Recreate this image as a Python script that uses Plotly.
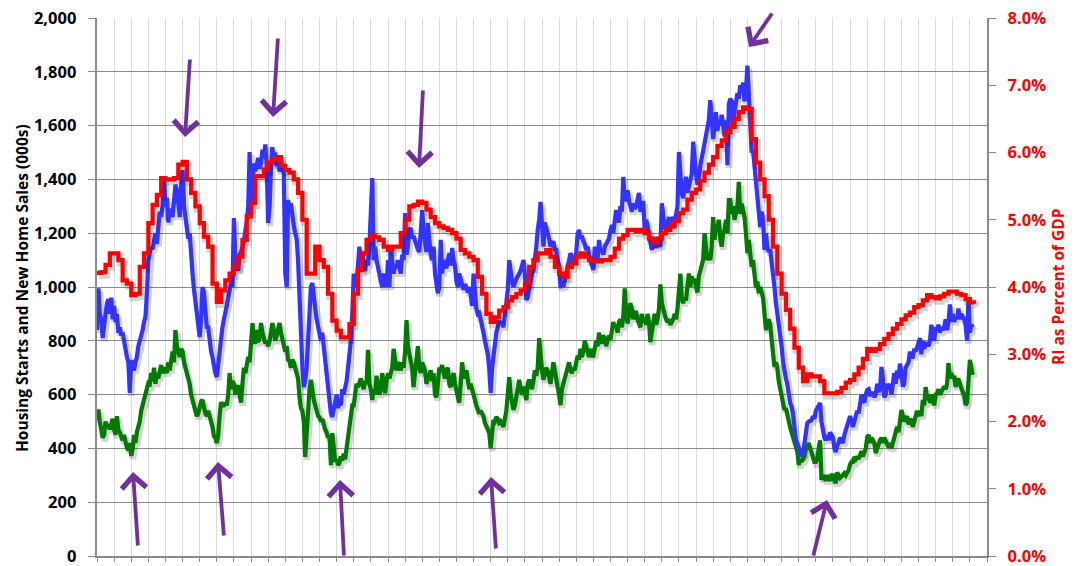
import plotly.graph_objects as go
import pandas as pd

START = "1968-01-01"

# Single-family housing starts (000s, SAAR), monthly from Jan 1968, one row per year
sf_starts_rows = [
    [840, 995, 900, 880, 810, 870, 900, 940, 955, 900, 960, 880],        # 1968
    [930, 870, 900, 830, 850, 820, 830, 800, 760, 740, 720, 606],        # 1969
    [728, 700, 690, 720, 740, 780, 800, 810, 840, 870, 890, 980],        # 1970
    [1100, 1130, 1150, 1140, 1180, 1200, 1160, 1240, 1280, 1260, 1300, 1409],
    [1300, 1330, 1240, 1290, 1280, 1260, 1330, 1380, 1360, 1290, 1260, 1380],
    [1435, 1300, 1250, 1230, 1180, 1200, 1100, 1050, 990, 950, 900, 850],
    [814, 880, 1000, 980, 900, 851, 850, 800, 760, 740, 700, 680],
    [665, 720, 780, 829, 850, 880, 900, 930, 960, 990, 1015, 1000],
    [1256, 1100, 1090, 1060, 1120, 1130, 1150, 1170, 1210, 1240, 1300, 1502],
    [1280, 1380, 1460, 1430, 1450, 1480, 1440, 1460, 1510, 1480, 1530, 1450],
    [1238, 1300, 1450, 1520, 1470, 1500, 1450, 1460, 1430, 1480, 1440, 1420],
    [1052, 1000, 1323, 1300, 1310, 1250, 1230, 1200, 1180, 1100, 950, 800],
    [700, 628, 650, 700, 800, 900, 1000, 1015, 950, 920, 880, 850],      # 1980
    [820, 800, 830, 780, 700, 680, 600, 560, 530, 517, 540, 560],
    [600, 550, 570, 560, 620, 600, 620, 650, 700, 750, 800, 900],
    [1050, 1000, 1020, 1080, 1150, 1100, 1130, 1080, 1060, 1100, 1080, 1150],
    [1250, 1405, 1100, 1150, 1100, 1080, 1050, 1020, 1000, 1050, 1030, 1000],
    [1100, 1000, 1150, 1100, 1050, 1080, 1070, 1100, 1060, 1050, 1120, 1100],
    [1275, 1120, 1150, 1212, 1220, 1180, 1190, 1170, 1150, 1140, 1130, 1200],
    [1286, 1200, 1160, 1130, 1238, 1150, 1120, 1100, 1150, 1050, 1020, 977],
    [1000, 1175, 1050, 1100, 1080, 1070, 1100, 1126, 1080, 1145, 1100, 1080],
    [1020, 1000, 1050, 1030, 1000, 990, 1010, 1000, 980, 1000, 970, 930],
    [1050, 960, 920, 900, 903, 880, 860, 830, 800, 777, 750, 700],       # 1990
    [606, 700, 750, 803, 830, 850, 877, 860, 870, 850, 900, 930],
    [989, 1100, 1050, 1020, 1000, 1020, 1030, 1040, 1050, 1060, 1080, 1100],
    [1050, 952, 960, 1000, 1020, 1050, 1060, 1100, 1150, 1212, 1250, 1316],
    [1250, 1150, 1240, 1212, 1200, 1180, 1150, 1160, 1170, 1140, 1138, 1100],
    [1080, 996, 1020, 1000, 1030, 1050, 1080, 1100, 1126, 1110, 1090, 1100],
    [1130, 1200, 1212, 1180, 1190, 1170, 1160, 1138, 1150, 1120, 1100, 1080],
    [1063, 1150, 1120, 1100, 1175, 1130, 1140, 1120, 1150, 1160, 1170, 1180],
    [1212, 1230, 1200, 1250, 1286, 1260, 1240, 1300, 1280, 1409, 1320, 1330],
    [1360, 1320, 1300, 1280, 1311, 1290, 1300, 1320, 1350, 1280, 1300, 1320],
    [1212, 1250, 1230, 1200, 1180, 1138, 1160, 1170, 1145, 1180, 1160, 1150],  # 2000
    [1311, 1250, 1220, 1212, 1240, 1260, 1230, 1250, 1260, 1240, 1280, 1300],
    [1502, 1400, 1350, 1330, 1380, 1410, 1350, 1380, 1400, 1420, 1540, 1450],
    [1420, 1380, 1400, 1450, 1480, 1500, 1520, 1550, 1600, 1620, 1695, 1600],
    [1550, 1600, 1650, 1580, 1620, 1600, 1640, 1600, 1560, 1620, 1453, 1680],
    [1700, 1690, 1600, 1650, 1680, 1720, 1700, 1750, 1720, 1760, 1690, 1730],
    [1823, 1700, 1650, 1500, 1510, 1450, 1400, 1350, 1300, 1223, 1280, 1250],
    [1138, 1200, 1150, 1130, 1140, 1100, 1050, 1000, 940, 900, 880, 814],
    [780, 720, 680, 660, 640, 600, 570, 555, 530, 480, 431, 420],
    [400, 383, 370, 380, 420, 450, 494, 500, 505, 505, 520, 510],
    [540, 550, 560, 569, 500, 460, 440, 430, 450, 430, 460, 450],        # 2010
    [440, 400, 387, 410, 420, 440, 430, 420, 450, 470, 480, 500],
    [520, 500, 480, 500, 530, 540, 530, 560, 600, 580, 570, 600],
    [617, 620, 600, 600, 610, 590, 600, 640, 610, 620, 703, 660],
    [590, 600, 640, 620, 640, 600, 650, 680, 640, 690, 660, 715],
    [680, 630, 640, 700, 710, 720, 760, 740, 740, 770, 760, 780],
    [790, 810, 750, 800, 770, 790, 790, 780, 800, 860, 820, 800],
    [850, 840, 860, 830, 850, 840, 850, 880, 840, 870, 935, 870],
    [900, 870, 890, 880, 920, 880, 900, 890, 880, 860, 800, 950],
    [830, 860, 850],                                                      # 2019
]

# New home sales (000s, SAAR), monthly from Jan 1968, one row per year
new_home_sales_rows = [
    [505, 545, 500, 470, 440, 450, 500, 480, 490, 470, 500, 510],        # 1968
    [470, 450, 520, 470, 460, 442, 430, 450, 420, 401, 395, 420],
    [372, 400, 450, 420, 460, 480, 500, 540, 560, 570, 600, 617],        # 1970
    [643, 640, 680, 650, 700, 640, 680, 660, 700, 710, 680, 690],
    [700, 680, 720, 690, 740, 760, 720, 840, 780, 760, 740, 770],
    [760, 720, 700, 680, 665, 640, 600, 580, 570, 540, 520, 530],
    [560, 575, 580, 550, 530, 520, 540, 520, 500, 480, 445, 440],
    [420, 450, 520, 572, 560, 560, 570, 560, 600, 680, 620, 650],
    [640, 600, 620, 635, 600, 570, 640, 700, 680, 720, 740, 720],
    [800, 866, 800, 790, 840, 795, 810, 866, 830, 800, 790, 800],
    [780, 800, 830, 866, 840, 800, 820, 850, 866, 830, 800, 780],
    [760, 780, 730, 725, 700, 730, 720, 700, 680, 660, 590, 550],
    [540, 500, 368, 450, 560, 620, 655, 600, 580, 560, 540, 520],        # 1980
    [516, 500, 510, 480, 470, 460, 440, 450, 338, 457, 380, 350],
    [360, 338, 345, 370, 355, 380, 360, 400, 430, 480, 530, 560],
    [560, 600, 640, 628, 650, 660, 640, 620, 650, 640, 766, 640],
    [620, 580, 620, 600, 670, 640, 600, 620, 680, 640, 605, 650],
    [680, 660, 690, 700, 770, 725, 690, 720, 700, 690, 720, 700],
    [760, 877, 780, 740, 725, 700, 628, 680, 720, 780, 700, 680],
    [720, 700, 690, 640, 660, 680, 690, 650, 680, 600, 590, 640],
    [700, 690, 710, 680, 660, 690, 700, 640, 628, 660, 680, 640],
    [620, 600, 570, 640, 720, 680, 660, 690, 650, 620, 640, 615],
    [600, 580, 560, 543, 530, 540, 530, 520, 495, 480, 470, 460],        # 1990
    [401, 460, 505, 500, 517, 510, 495, 500, 490, 480, 510, 540],
    [600, 665, 605, 580, 543, 560, 600, 640, 655, 620, 600, 630],
    [600, 580, 640, 655, 640, 620, 650, 690, 670, 700, 810, 720],
    [690, 655, 680, 700, 690, 660, 640, 680, 720, 690, 640, 628],
    [600, 561, 620, 640, 665, 680, 700, 720, 690, 680, 700, 690],
    [720, 745, 730, 770, 740, 760, 800, 780, 760, 740, 770, 745],
    [745, 770, 800, 780, 830, 800, 790, 820, 810, 780, 805, 820],
    [805, 840, 870, 850, 860, 830, 870, 880, 850, 890, 995, 900],
    [865, 900, 940, 920, 880, 900, 910, 880, 860, 850, 900, 870],
    [880, 860, 900, 870, 795, 830, 880, 900, 860, 880, 920, 1010],       # 2000
    [940, 910, 900, 880, 870, 880, 860, 870, 880, 900, 880, 920],
    [1000, 1050, 960, 940, 960, 950, 1000, 1050, 1000, 1040, 1020, 1030],
    [1000, 980, 1040, 1060, 1080, 1100, 1200, 1150, 1100, 1120, 1100, 1150],
    [1260, 1175, 1230, 1212, 1250, 1180, 1150, 1200, 1212, 1250, 1200, 1323],
    [1323, 1272, 1300, 1250, 1280, 1300, 1391, 1272, 1310, 1290, 1260, 1200],
    [1126, 1175, 1100, 1075, 1100, 1050, 1000, 1020, 977, 1000, 980, 960],
    [900, 840, 860, 880, 860, 800, 780, 703, 720, 700, 650, 620],
    [600, 580, 543, 550, 520, 500, 480, 460, 440, 420, 405, 390],
    [338, 360, 350, 360, 370, 400, 405, 420, 400, 390, 370, 350],
    [350, 360, 400, 430, 283, 300, 290, 280, 300, 290, 280, 300],        # 2010
    [300, 280, 271, 310, 300, 290, 295, 300, 308, 300, 310, 320],
    [340, 350, 350, 368, 360, 370, 360, 380, 390, 370, 390, 400],
    [442, 450, 420, 440, 430, 420, 383, 400, 420, 430, 440, 420],
    [440, 430, 420, 405, 420, 400, 420, 440, 450, 480, 460, 500],
    [543, 520, 500, 510, 520, 490, 500, 510, 480, 500, 520, 540],
    [520, 540, 520, 580, 560, 628, 580, 600, 570, 580, 600, 560],
    [600, 605, 620, 600, 610, 620, 630, 620, 640, 717, 660, 680],
    [660, 670, 628, 650, 660, 640, 620, 610, 600, 561, 570, 650],
    [729, 700, 673],                                                      # 2019
]

# Residential investment as percent of GDP, quarterly from 1968 Q1, one row per year
ri_pct_gdp_rows = [
    [4.21, 4.22, 4.33, 4.5],   # 1968
    [4.5, 4.4, 4.1, 4.05],
    [3.88, 3.9, 4.3, 4.5],     # 1970
    [4.95, 5.22, 5.37, 5.62],
    [5.6, 5.6, 5.62, 5.82],
    [5.86, 5.6, 5.4, 5.2],
    [4.95, 4.75, 4.6, 4.05],
    [3.78, 3.95, 4.1, 4.2],
    [4.3, 4.45, 4.7, 5.05],
    [5.25, 5.65, 5.65, 5.75],
    [5.85, 5.9, 5.93, 5.8],
    [5.74, 5.7, 5.6, 5.4],
    [5.0, 4.2, 4.2, 4.6],      # 1980
    [4.4, 4.3, 3.9, 3.5],
    [3.35, 3.25, 3.25, 3.45],
    [3.9, 4.25, 4.5, 4.7],
    [4.76, 4.74, 4.7, 4.6],
    [4.55, 4.6, 4.6, 4.8],
    [5.0, 5.2, 5.22, 5.27],
    [5.25, 5.15, 5.04, 4.95],
    [4.9, 4.88, 4.85, 4.8],
    [4.72, 4.55, 4.5, 4.45],
    [4.4, 4.15, 3.9, 3.6],     # 1990
    [3.48, 3.55, 3.65, 3.7],
    [3.8, 3.85, 3.9, 3.95],
    [4.05, 4.3, 4.4, 4.5],
    [4.5, 4.55, 4.45, 4.3],
    [4.2, 4.15, 4.3, 4.35],
    [4.45, 4.5, 4.45, 4.4],
    [4.38, 4.38, 4.4, 4.4],
    [4.45, 4.57, 4.72, 4.77],
    [4.85, 4.85, 4.83, 4.85],
    [4.8, 4.72, 4.66, 4.72],   # 2000
    [4.8, 4.85, 4.9, 4.98],
    [5.1, 5.15, 5.3, 5.4],
    [5.45, 5.58, 5.7, 5.82],
    [5.93, 6.1, 6.18, 6.3],
    [6.38, 6.5, 6.6, 6.67],
    [6.65, 6.2, 5.85, 5.6],
    [5.35, 5.0, 4.6, 4.2],
    [3.9, 3.66, 3.38, 3.1],
    [2.8, 2.6, 2.7, 2.67],
    [2.67, 2.6, 2.42, 2.42],   # 2010
    [2.42, 2.44, 2.5, 2.58],
    [2.62, 2.7, 2.8, 2.93],
    [3.08, 3.05, 3.08, 3.15],
    [3.23, 3.3, 3.38, 3.45],
    [3.52, 3.58, 3.62, 3.7],
    [3.73, 3.8, 3.88, 3.85],
    [3.83, 3.86, 3.9, 3.93],
    [3.93, 3.9, 3.88, 3.82],
    [3.77, 3.75],              # 2019
]

left_title = "Housing Starts and New Home Sales (000s)"
right_title = "RI as Percent of GDP"

starts = [v for row in sf_starts_rows for v in row]
sales = [v for row in new_home_sales_rows for v in row]
ri = [v for row in ri_pct_gdp_rows for v in row]

months_starts = pd.date_range(START, periods=len(starts), freq="MS")
months_sales = pd.date_range(START, periods=len(sales), freq="MS")
quarters = pd.date_range(START, periods=len(ri), freq="QS")

# ---- figure geometry (pixels); page body margin is set to 0 below ----
W, H = 1077, 566
L, T = 97, 18
PLOT_R, PLOT_B = 987, 556
R, B = W - PLOT_R, H - PLOT_B
PW, PH = PLOT_R - L, PLOT_B - T


def px_to_paper(x, y):
    """window pixel -> paper coordinates"""
    return (x - L) / PW, (PLOT_B - y) / PH


BLUE = "#3333FF"
GREEN = "#007A00"
RED = "#FF0000"
PURPLE = "#7030A0"
SHADOW = "rgba(0,0,0,0.17)"
shift = pd.Timedelta(days=35)
NBSP = "\u00a0"

fig = go.Figure()

# soft drop shadows (offset down/right), drawn first
fig.add_trace(go.Scatter(x=months_sales + shift, y=[v - 11 for v in sales], mode="lines",
                         line=dict(color=SHADOW, width=6.5), hoverinfo="skip"))
fig.add_trace(go.Scatter(x=months_starts + shift, y=[v - 11 for v in starts], mode="lines",
                         line=dict(color=SHADOW, width=6.5), hoverinfo="skip"))
fig.add_trace(go.Scatter(x=quarters + shift, y=[v - 0.044 for v in ri], mode="lines",
                         line=dict(color=SHADOW, width=6.5, shape="hv"), yaxis="y2", hoverinfo="skip"))

fig.add_trace(go.Scatter(x=months_sales, y=sales, mode="lines", name="New Home Sales",
                         line=dict(color=GREEN, width=4.2)))
fig.add_trace(go.Scatter(x=months_starts, y=starts, mode="lines", name="Single Family Starts",
                         line=dict(color=BLUE, width=4.2)))
fig.add_trace(go.Scatter(x=quarters, y=ri, mode="lines", name="RI as % of GDP",
                         line=dict(color=RED, width=4.2, shape="hv"), yaxis="y2"))

GRID = "#8a8a8a"
fig.update_layout(
    width=W, height=H,
    margin=dict(l=L, r=R, t=T, b=B, autoexpand=False),
    paper_bgcolor="white", plot_bgcolor="white",
    showlegend=False,
    font=dict(family="Open Sans", color="black"),
    xaxis=dict(
        type="date", range=["1968-01-01", "2020-01-01"],
        tick0="1968-01-01", dtick="M12",
        showgrid=True, gridcolor="#dcdcdc", gridwidth=1,
        ticks="outside", ticklen=4, tickcolor=GRID, tickwidth=1.3,
        showline=True, linecolor=GRID, linewidth=1.5,
        showticklabels=False, zeroline=False, automargin=False,
    ),
    yaxis=dict(
        range=[0, 2000], dtick=200, tickformat=",", ticksuffix=NBSP * 2,
        showgrid=True, gridcolor=GRID, gridwidth=1.4,
        showline=True, linecolor=GRID, linewidth=1.5,
        ticks="outside", ticklen=7, tickcolor=GRID, tickwidth=1.3,
        tickfont=dict(family="Open Sans", size=16.5, color="black", weight="bold"),
        zeroline=False, automargin=False, ticklabeloverflow="allow",
    ),
    yaxis2=dict(
        overlaying="y", side="right", range=[0, 8], dtick=1,
        tickformat=".1f", ticksuffix="%", tickprefix=NBSP * 2,
        showgrid=False, showline=True, linecolor=GRID, linewidth=1.5,
        ticks="outside", ticklen=7, tickcolor=GRID, tickwidth=1.3,
        tickfont=dict(family="Open Sans", size=16.5, color=RED, weight="bold"),
        zeroline=False, automargin=False, ticklabeloverflow="allow",
    ),
)

annotations = []
# axis titles
lx, ly = px_to_paper(22, 288)
annotations.append(dict(xref="paper", yref="paper", x=lx, y=ly, text=left_title, showarrow=False,
                        textangle=-90, xanchor="center", yanchor="middle",
                        font=dict(family="Open Sans", size=15.5, color="black", weight="bold")))
rx, ry = px_to_paper(1058, 287)
annotations.append(dict(xref="paper", yref="paper", x=rx, y=ry, text=right_title, showarrow=False,
                        textangle=-90, xanchor="center", yanchor="middle",
                        font=dict(family="Open Sans", size=15.5, color=RED, weight="bold")))

# purple arrows: (head_x, head_y, tail_x, tail_y) in window pixels
arrows = [
    (133, 472, 138, 547), (218, 462, 224, 537), (340, 480, 344, 557),
    (491, 477, 496, 550), (827, 500, 813, 557),
    (185, 137, 190, 58), (273, 117, 278, 37), (419, 168, 423, 89), (749, 47, 773, 12),
]
for hx, hy, tx, ty in arrows:
    px, py = px_to_paper(hx, hy)
    annotations.append(dict(xref="paper", yref="paper", x=px, y=py, ax=tx - hx, ay=ty - hy,
                            axref="pixel", ayref="pixel", text="", showarrow=True,
                            arrowhead=4, arrowsize=1.25, arrowwidth=3.8, arrowcolor=PURPLE,
                            standoff=0, startstandoff=0))
fig.update_layout(annotations=annotations)

fig.write_html(
    "out.html",
    config={"displayModeBar": False},
    post_script="document.body.style.margin='0';document.body.style.overflow='hidden';",
)
